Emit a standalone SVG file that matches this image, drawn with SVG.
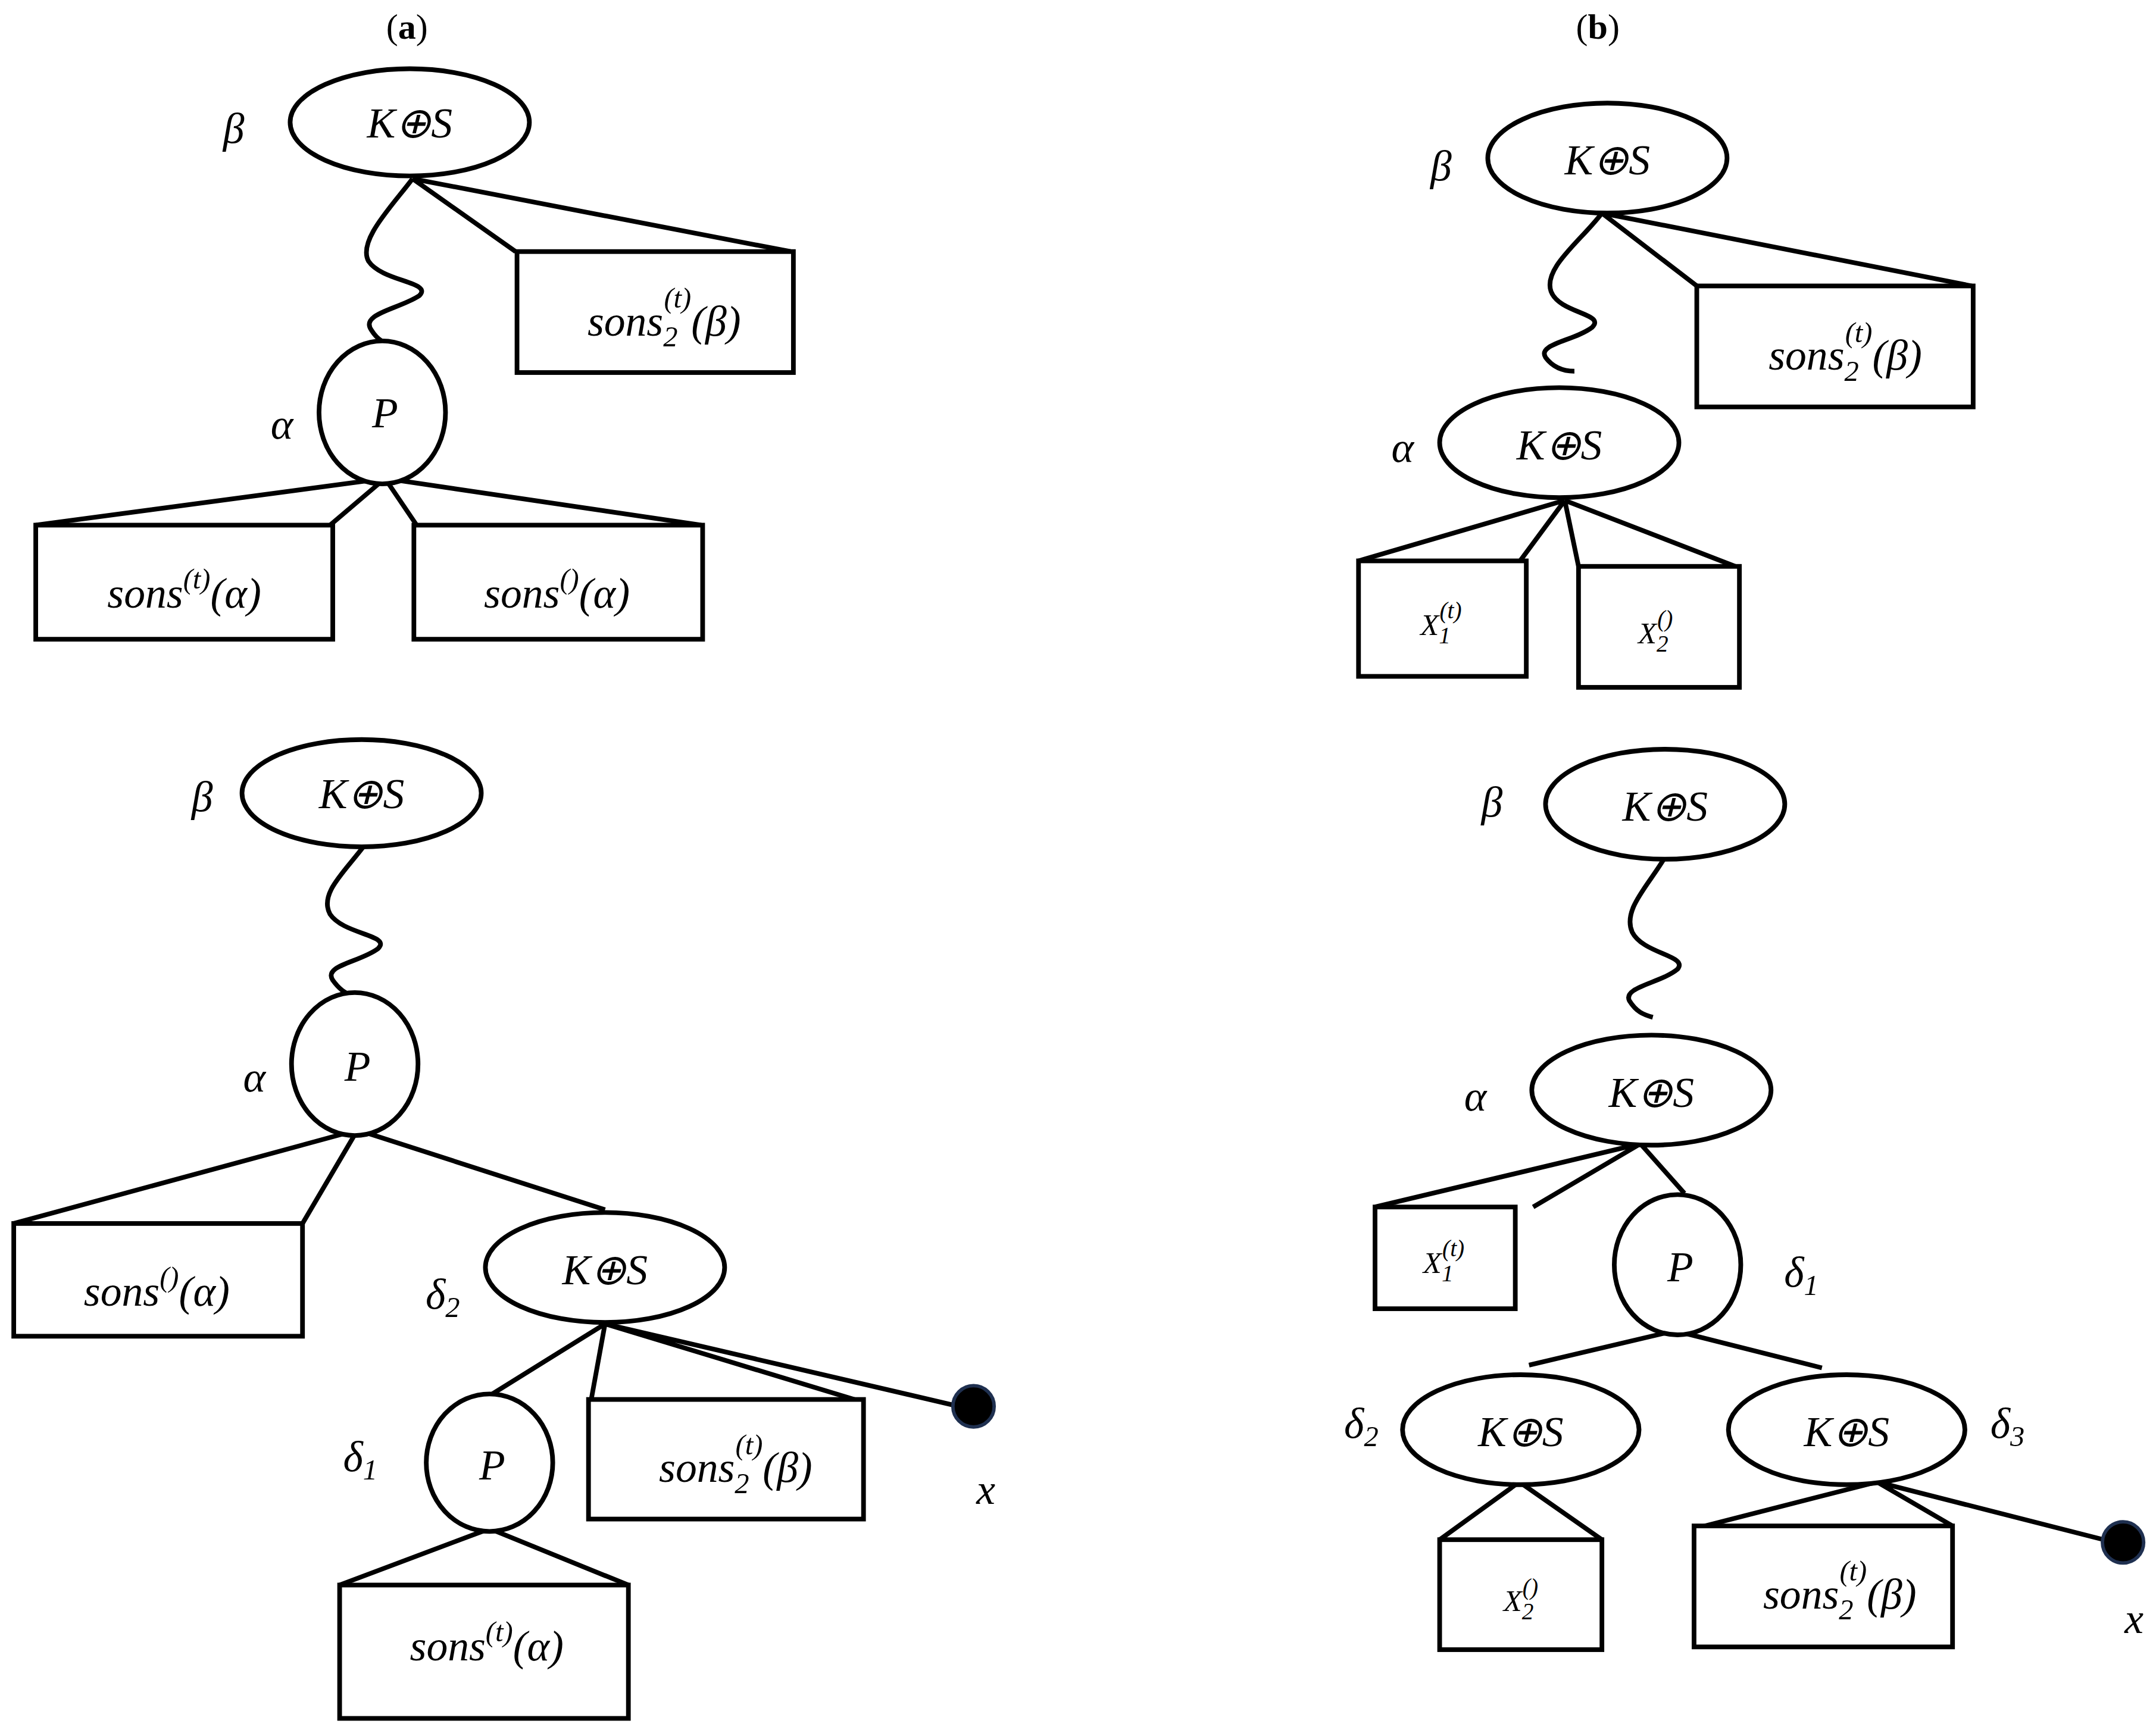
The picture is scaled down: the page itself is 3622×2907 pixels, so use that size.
<svg xmlns="http://www.w3.org/2000/svg" width="3622" height="2907" viewBox="0 0 3622 2907">
<style>
.s{fill:none;stroke:#000;stroke-width:3.4;stroke-linejoin:round}
.n{fill:#fff;stroke:#000;stroke-width:3.4}
.t{font-family:"Liberation Serif",serif;font-style:italic;font-size:31px;text-anchor:middle}
.u{font-style:normal}
.sm{font-size:21px}
.xs{font-size:17px}
.h{font-family:"Liberation Serif",serif;font-size:26px;text-anchor:middle}
.dot{fill:#000;stroke:#1f3050;stroke-width:2.5}
</style>
<rect width="3622" height="2907" fill="#fff"/>
<g transform="scale(2.31)">
<text class="h" x="296" y="28">(<tspan font-weight="bold">a</tspan>)</text>
<text class="h" x="1162" y="28">(<tspan font-weight="bold">b</tspan>)</text>
<g id="connectors">
<!-- a top -->
<path class="s" d="M300,130 C285,150 260,175 268,190 C278,205 315,205 305,215 C290,225 262,228 270,240 C275,248 280,250 285,250"/>
<path class="s" d="M300,130 L375,183 M300,130 L575,183"/>
<path class="s" d="M280,348 L26,382 M280,348 L240,382 M280,348 L303,382 M280,348 L510,382"/>
<!-- a bottom -->
<path class="s" d="M265,615 C250,635 232,650 240,665 C250,680 285,680 275,690 C262,700 235,702 242,713 C247,720 252,723 256,724"/>
<path class="s" d="M260,822 L10,890 M260,822 L220,890 M260,822 L440,880"/>
<path class="s" d="M440,963 L358,1014 M440,963 L430,1018 M440,963 L628,1020 M440,963 L693,1022"/>
<path class="s" d="M356,1112 L247,1153 M356,1112 L457,1153"/>
<!-- b top -->
<path class="s" d="M1165,155 C1150,175 1122,195 1128,212 C1134,228 1168,228 1158,238 C1145,248 1118,250 1124,260 C1130,268 1138,270 1145,270"/>
<path class="s" d="M1165,155 L1234,208 M1165,155 L1434,208"/>
<path class="s" d="M1138,364 L988,408 M1138,364 L1104,410 M1138,364 L1148,412 M1138,364 L1262,412"/>
<!-- b bottom -->
<path class="s" d="M1210,625 C1198,645 1180,662 1187,678 C1195,694 1228,695 1220,705 C1208,715 1180,718 1185,728 C1190,736 1195,738 1202,740"/>
<path class="s" d="M1193,832 L1000,878 M1193,832 L1115,878 M1193,832 L1225,868"/>
<path class="s" d="M1218,968 L1112,993 M1218,968 L1325,995"/>
<path class="s" d="M1105,1078 L1047,1120 M1105,1078 L1165,1120"/>
<path class="s" d="M1365,1078 L1232,1112 M1365,1078 L1420,1110 M1365,1078 L1530,1120"/>
</g>
<!-- (a) top -->
<g id="a_beta"><ellipse class="n" cx="298" cy="89" rx="87" ry="39"/><text class="t" x="298" y="100">K⊕S</text><text class="t" x="170" y="104">β</text></g>
<g id="a_sons2b"><rect class="n" x="376" y="183" width="201" height="88"/><text class="t" x="483" y="244">sons<tspan class="sm" dy="8">2</tspan><tspan class="sm" dx="-10" dy="-28">(t)</tspan><tspan dy="20">(β)</tspan></text></g>
<g id="a_alpha"><ellipse class="n" cx="278" cy="300" rx="46" ry="52"/><text class="t" x="280" y="311">P</text><text class="t" x="205" y="319">α</text></g>
<g id="a_sonsta"><rect class="n" x="26" y="382" width="216" height="83"/><text class="t" x="134" y="442">sons<tspan class="sm" dy="-14">(t)</tspan><tspan dy="14">(α)</tspan></text></g>
<g id="a_sons0a"><rect class="n" x="301" y="382" width="210" height="83"/><text class="t" x="405" y="442">sons<tspan class="sm" dy="-14">()</tspan><tspan dy="14">(α)</tspan></text></g>
<!-- (a) bottom -->
<g id="a2_beta"><ellipse class="n" cx="263" cy="577" rx="87" ry="39"/><text class="t" x="263" y="588">K⊕S</text><text class="t" x="147" y="590">β</text></g>
<g id="a2_alpha"><ellipse class="n" cx="258" cy="774" rx="46" ry="52"/><text class="t" x="260" y="786">P</text><text class="t" x="185" y="794">α</text></g>
<g id="a2_sons0a"><rect class="n" x="10" y="890" width="210" height="82"/><text class="t" x="114" y="950">sons<tspan class="sm" dy="-14">()</tspan><tspan dy="14">(α)</tspan></text></g>
<g id="a2_delta2"><ellipse class="n" cx="440" cy="922" rx="87" ry="40"/><text class="t" x="440" y="934">K⊕S</text><text class="t" x="322" y="952">δ<tspan class="sm" dy="6">2</tspan></text></g>
<g id="a2_sons2b"><rect class="n" x="428" y="1018" width="200" height="87"/><text class="t" x="535" y="1078">sons<tspan class="sm" dy="8">2</tspan><tspan class="sm" dx="-10" dy="-28">(t)</tspan><tspan dy="20">(β)</tspan></text></g>
<g id="a2_x"><circle class="dot" cx="708" cy="1023" r="15"/><text class="t" x="717" y="1094">x</text></g>
<g id="a2_delta1"><ellipse class="n" cx="356" cy="1064" rx="46" ry="50"/><text class="t" x="358" y="1076">P</text><text class="t" x="262" y="1070">δ<tspan class="sm" dy="6">1</tspan></text></g>
<g id="a2_sonsta"><rect class="n" x="247" y="1153" width="210" height="97"/><text class="t" x="354" y="1208">sons<tspan class="sm" dy="-14">(t)</tspan><tspan dy="14">(α)</tspan></text></g>
<!-- (b) top -->
<g id="b_beta"><ellipse class="n" cx="1169" cy="115" rx="87" ry="40"/><text class="t" x="1169" y="127">K⊕S</text><text class="t" x="1048" y="131">β</text></g>
<g id="b_sons2b"><rect class="n" x="1234" y="208" width="201" height="88"/><text class="t" x="1342" y="269">sons<tspan class="sm" dy="8">2</tspan><tspan class="sm" dx="-10" dy="-28">(t)</tspan><tspan dy="20">(β)</tspan></text></g>
<g id="b_alpha"><ellipse class="n" cx="1134" cy="322" rx="87" ry="40"/><text class="t" x="1134" y="334">K⊕S</text><text class="t" x="1020" y="336">α</text></g>
<g id="b_x1"><rect class="n" x="988" y="408" width="122" height="84"/><text class="t" x="1048" y="462" style="font-size:22px">X<tspan class="xs" dy="6">1</tspan><tspan class="xs" dx="-8" dy="-18">(t)</tspan></text></g>
<g id="b_x2"><rect class="n" x="1148" y="412" width="117" height="88"/><text class="t" x="1204" y="468" style="font-size:22px">X<tspan class="xs" dy="6">2</tspan><tspan class="xs" dx="-8" dy="-18">()</tspan></text></g>
<!-- (b) bottom -->
<g id="b2_beta"><ellipse class="n" cx="1211" cy="585" rx="87" ry="40"/><text class="t" x="1211" y="597">K⊕S</text><text class="t" x="1085" y="594">β</text></g>
<g id="b2_alpha"><ellipse class="n" cx="1201" cy="793" rx="87" ry="40"/><text class="t" x="1201" y="805">K⊕S</text><text class="t" x="1073" y="808">α</text></g>
<g id="b2_x1"><rect class="n" x="1000" y="878" width="102" height="74"/><text class="t" x="1050" y="926" style="font-size:22px">X<tspan class="xs" dy="6">1</tspan><tspan class="xs" dx="-8" dy="-18">(t)</tspan></text></g>
<g id="b2_delta1"><ellipse class="n" cx="1220" cy="920" rx="46" ry="51"/><text class="t" x="1222" y="932">P</text><text class="t" x="1310" y="936">δ<tspan class="sm" dy="6">1</tspan></text></g>
<g id="b2_delta2"><ellipse class="n" cx="1106" cy="1040" rx="86" ry="40"/><text class="t" x="1106" y="1052">K⊕S</text><text class="t" x="990" y="1046">δ<tspan class="sm" dy="6">2</tspan></text></g>
<g id="b2_delta3"><ellipse class="n" cx="1343" cy="1040" rx="86" ry="40"/><text class="t" x="1343" y="1052">K⊕S</text><text class="t" x="1460" y="1046">δ<tspan class="sm" dy="6">3</tspan></text></g>
<g id="b2_x2"><rect class="n" x="1047" y="1120" width="118" height="80"/><text class="t" x="1106" y="1172" style="font-size:22px">X<tspan class="xs" dy="6">2</tspan><tspan class="xs" dx="-8" dy="-18">()</tspan></text></g>
<g id="b2_sons2b"><rect class="n" x="1232" y="1110" width="188" height="88"/><text class="t" x="1338" y="1170">sons<tspan class="sm" dy="8">2</tspan><tspan class="sm" dx="-10" dy="-28">(t)</tspan><tspan dy="20">(β)</tspan></text></g>
<g id="b2_x"><circle class="dot" cx="1544" cy="1122" r="15"/><text class="t" x="1552" y="1188">x</text></g>
</g>
</svg>
